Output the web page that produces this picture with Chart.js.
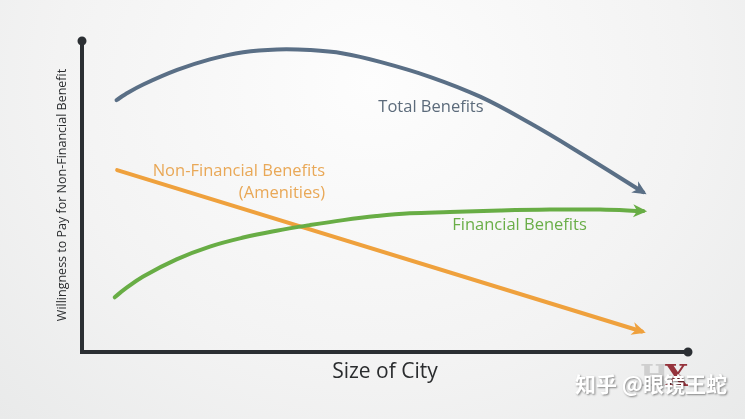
<!DOCTYPE html>
<html>
<head>
<meta charset="utf-8">
<script src="https://cdn.jsdelivr.net/npm/chart.js@4"></script>
<style>
    html, body { margin: 0; padding: 0; }
    body {
        width: 745px; height: 419px; overflow: hidden;
        background: radial-gradient(ellipse at 50% 20%, #fdfdfd 0%, #f3f3f3 60%, #e9eaea 100%);
    }
    #wrap { position: relative; width: 745px; height: 419px; }
</style>
</head>
<body>
<div id="wrap"><canvas id="cityChart" width="745" height="419"></canvas></div>
<script>
// curve values, in axis units (0..100 on both axes)
const totalX = [5.7, 7.1, 10.1, 15.7, 21.1, 26.6, 32.2, 37.6, 43.1, 49.2, 57.4, 65.7, 73.9, 82.2, 92.6];
const totalY = [81.0, 82.8, 86.0, 90.7, 94.1, 96.4, 97.3, 97.1, 96.0, 93.3, 88.5, 82.1, 73.6, 64.0, 51.4];

const financialX = [5.4, 7.1, 10.1, 15.6, 21.1, 26.6, 32.1, 37.6, 43.1, 48.6, 54.1, 60.7, 69.0, 77.2, 85.5, 92.6];
const financialY = [17.6, 20.3, 24.3, 29.8, 33.9, 36.8, 39.0, 40.8, 42.4, 43.7, 44.6, 45.0, 45.5, 45.8, 45.8, 45.3];

const amenitiesX = [5.8, 92.4];
const amenitiesY = [58.5, 6.6];

const seriesNames = ['Total Benefits', 'Financial Benefits', 'Non-Financial Benefits'];
const xTitle = 'Size of City';
const yTitle = 'Willingness to Pay for Non-Financial Benefit';

const COLORS = {
    total: '#5a6f86',
    financial: '#68ad45',
    amenities: '#efa13d',
    axis: '#2b2f33',
};

function toPoints(xs, ys) {
    return xs.map(function (x, i) { return {x: x, y: ys[i]}; });
}

// arrow heads, axis lines, titles and curve labels
const decorations = {
    id: 'decorations',
    beforeDatasetsDraw: function (chart) {
        // faint logo behind the watermark
        let ctx = chart.ctx;
        ctx.save();
        ctx.font = 'bold 30px "DejaVu Serif"';
        ctx.textBaseline = 'middle';
        ctx.fillStyle = 'rgba(150,150,150,0.35)';
        ctx.fillText('H', 640, 378);
        ctx.fillStyle = 'rgba(140,30,40,0.9)';
        ctx.fillText('X', 665, 378);
        ctx.restore();
    },
    afterDatasetsDraw: function (chart) {
        let ctx = chart.ctx;
        let area = chart.chartArea;
        let sx = chart.scales.x, sy = chart.scales.y;

        chart.data.datasets.forEach(function (ds, i) {
            let pts = chart.getDatasetMeta(i).data;
            let end = pts[pts.length - 1];
            let prev = pts[pts.length - 2];
            let ang = Math.atan2(end.y - prev.y, end.x - prev.x);
            if (end.cp1x !== undefined && i < 2) {
                ang = Math.atan2(end.y - end.cp1y, end.x - end.cp1x);
            }
            ctx.save();
            ctx.translate(end.x, end.y);
            ctx.rotate(ang);
            ctx.fillStyle = ds.borderColor;
            ctx.beginPath();
            ctx.moveTo(4, 0);
            ctx.lineTo(-10, -6.5);
            ctx.lineTo(-6, 0);
            ctx.lineTo(-10, 6.5);
            ctx.closePath();
            ctx.fill();
            ctx.restore();
        });

        // axes
        ctx.save();
        ctx.strokeStyle = COLORS.axis;
        ctx.fillStyle = COLORS.axis;
        ctx.lineWidth = 4;
        ctx.beginPath();
        ctx.moveTo(area.left, area.top);
        ctx.lineTo(area.left, area.bottom);
        ctx.lineTo(area.right, area.bottom);
        ctx.stroke();
        ctx.beginPath();
        ctx.arc(area.left, area.top, 4.5, 0, Math.PI * 2);
        ctx.arc(area.right, area.bottom, 4.5, 0, Math.PI * 2);
        ctx.fill();

        ctx.textAlign = 'center';
        ctx.textBaseline = 'middle';
        ctx.fillStyle = '#2a2c2e';
        ctx.font = '21px "Open Sans"';
        ctx.fillText(xTitle, (area.left + area.right) / 2, 372);

        ctx.save();
        ctx.translate(62, 195);
        ctx.rotate(-Math.PI / 2);
        ctx.font = '12.5px "Open Sans"';
        ctx.fillText(yTitle, 0, 0);
        ctx.restore();

        // curve labels
        ctx.font = '16.5px "Open Sans"';
        ctx.fillStyle = '#5c6b7b';
        ctx.textAlign = 'left';
        ctx.fillText(seriesNames[0], sx.getPixelForValue(48.9), sy.getPixelForValue(78.8));
        ctx.fillStyle = '#6aae48';
        ctx.fillText(seriesNames[1], sx.getPixelForValue(61.1), sy.getPixelForValue(40.8));
        ctx.fillStyle = '#e9a857';
        ctx.textAlign = 'right';
        ctx.fillText(seriesNames[2], sx.getPixelForValue(40.1), sy.getPixelForValue(58.2));
        ctx.fillText('(Amenities)', sx.getPixelForValue(40.1), sy.getPixelForValue(51.1));
        ctx.restore();

        // watermark
        ctx.save();
        ctx.font = 'bold 21px "Noto Sans CJK SC"';
        ctx.textAlign = 'right';
        ctx.textBaseline = 'middle';
        ctx.shadowColor = 'rgba(0,0,0,0.45)';
        ctx.shadowBlur = 2;
        ctx.shadowOffsetX = 1;
        ctx.shadowOffsetY = 1;
        ctx.fillStyle = '#ffffff';
        ctx.fillText('知乎 @眼镜王蛇', 727, 384);
        ctx.restore();
    }
};

let ctx = document.getElementById('cityChart').getContext('2d');

let cityChart = new Chart(ctx, {
    type: 'line',
    data: {
        datasets: [
            {
                label: seriesNames[0],
                data: toPoints(totalX, totalY),
                borderColor: COLORS.total,
                tension: 0.4,
            },
            {
                label: seriesNames[1],
                data: toPoints(financialX, financialY),
                borderColor: COLORS.financial,
                tension: 0.4,
            },
            {
                label: seriesNames[2],
                data: toPoints(amenitiesX, amenitiesY),
                borderColor: COLORS.amenities,
            },
        ]
    },
    options: {
        responsive: false,
        animation: false,
        layout: {padding: {left: 82, right: 57, top: 41, bottom: 67}},
        elements: {
            point: {radius: 0},
            line: {borderWidth: 4, borderCapStyle: 'round'},
        },
        plugins: {
            legend: {display: false},
            tooltip: {enabled: false},
        },
        scales: {
            x: {type: 'linear', min: 0, max: 100, display: false},
            y: {type: 'linear', min: 0, max: 100, display: false},
        }
    },
    plugins: [decorations]
});
</script>
</body>
</html>
